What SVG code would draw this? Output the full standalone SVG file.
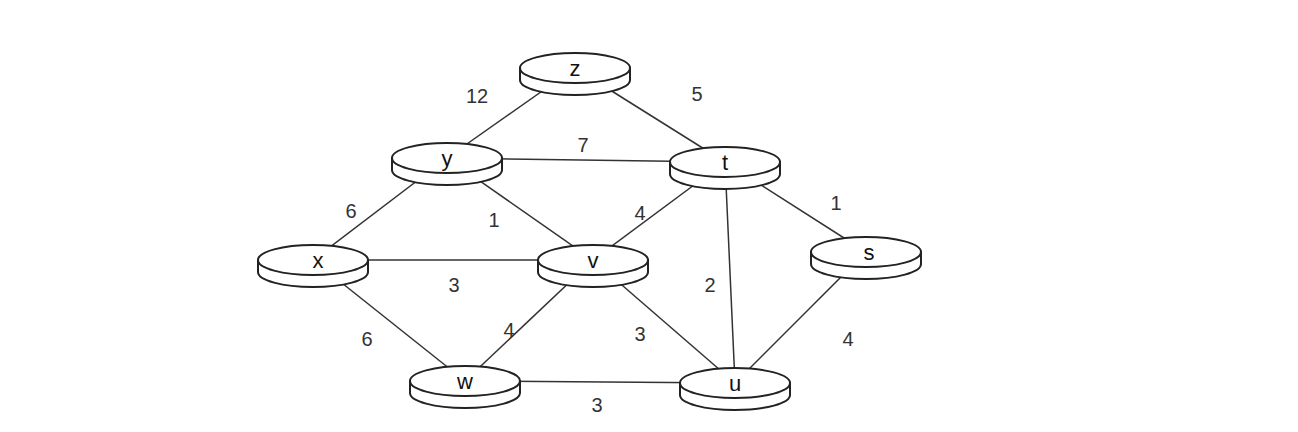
<svg xmlns="http://www.w3.org/2000/svg" width="1298" height="432" viewBox="0 0 1298 432">
<style>
.rs{fill:#fff;stroke:#222;stroke-width:2}
.e line{stroke:#333;stroke-width:1.5}
text{font-family:"Liberation Sans",Arial,sans-serif;font-size:20px;fill:#333;text-anchor:middle}
.n text{font-size:22px;fill:#111}
</style>
<rect width="1298" height="432" fill="#fff"/>
<defs>
<g id="r"><path class="rs" d="M-55,0 V12 A55,15 0 0 0 55,12 V0 Z" fill="#fff" stroke="#222" stroke-width="2"/><ellipse class="rs" cx="0" cy="0" rx="55" ry="15" fill="#fff" stroke="#222" stroke-width="2"/></g>
</defs>
<g class="e">
<line x1="575" y1="68" x2="447" y2="158"/>
<line x1="575" y1="68" x2="725" y2="162"/>
<line x1="447" y1="158" x2="725" y2="162"/>
<line x1="447" y1="158" x2="313" y2="260"/>
<line x1="447" y1="158" x2="593" y2="260"/>
<line x1="725" y1="162" x2="593" y2="260"/>
<line x1="725" y1="162" x2="866" y2="252"/>
<line x1="725" y1="162" x2="735" y2="383"/>
<line x1="313" y1="260" x2="593" y2="260"/>
<line x1="313" y1="260" x2="465" y2="381"/>
<line x1="593" y1="260" x2="465" y2="381"/>
<line x1="593" y1="260" x2="735" y2="383"/>
<line x1="465" y1="381" x2="735" y2="383"/>
<line x1="866" y1="252" x2="735" y2="383"/>
</g>
<g class="n" id="z"><use href="#r" x="575" y="68"/><text x="575" y="76">z</text></g>
<g class="n" id="y"><use href="#r" x="447" y="158"/><text x="447" y="166">y</text></g>
<g class="n" id="t"><use href="#r" x="725" y="162"/><text x="725" y="170">t</text></g>
<g class="n" id="x"><use href="#r" x="313" y="260"/><text x="318" y="268">x</text></g>
<g class="n" id="v"><use href="#r" x="593" y="260"/><text x="593" y="268">v</text></g>
<g class="n" id="s"><use href="#r" x="866" y="252"/><text x="869" y="260">s</text></g>
<g class="n" id="w"><use href="#r" x="465" y="381"/><text x="465" y="389">w</text></g>
<g class="n" id="u"><use href="#r" x="735" y="383"/><text x="735" y="391">u</text></g>
<g>
<text x="477" y="103">12</text><text x="697" y="101">5</text><text x="583" y="152">7</text>
<text x="351" y="218">6</text><text x="494" y="227">1</text><text x="640" y="220">4</text>
<text x="836" y="210">1</text><text x="454" y="292">3</text><text x="710" y="292">2</text>
<text x="367" y="346">6</text><text x="509" y="337">4</text><text x="640" y="341">3</text>
<text x="848" y="346">4</text><text x="597" y="412">3</text>
</g>
</svg>
